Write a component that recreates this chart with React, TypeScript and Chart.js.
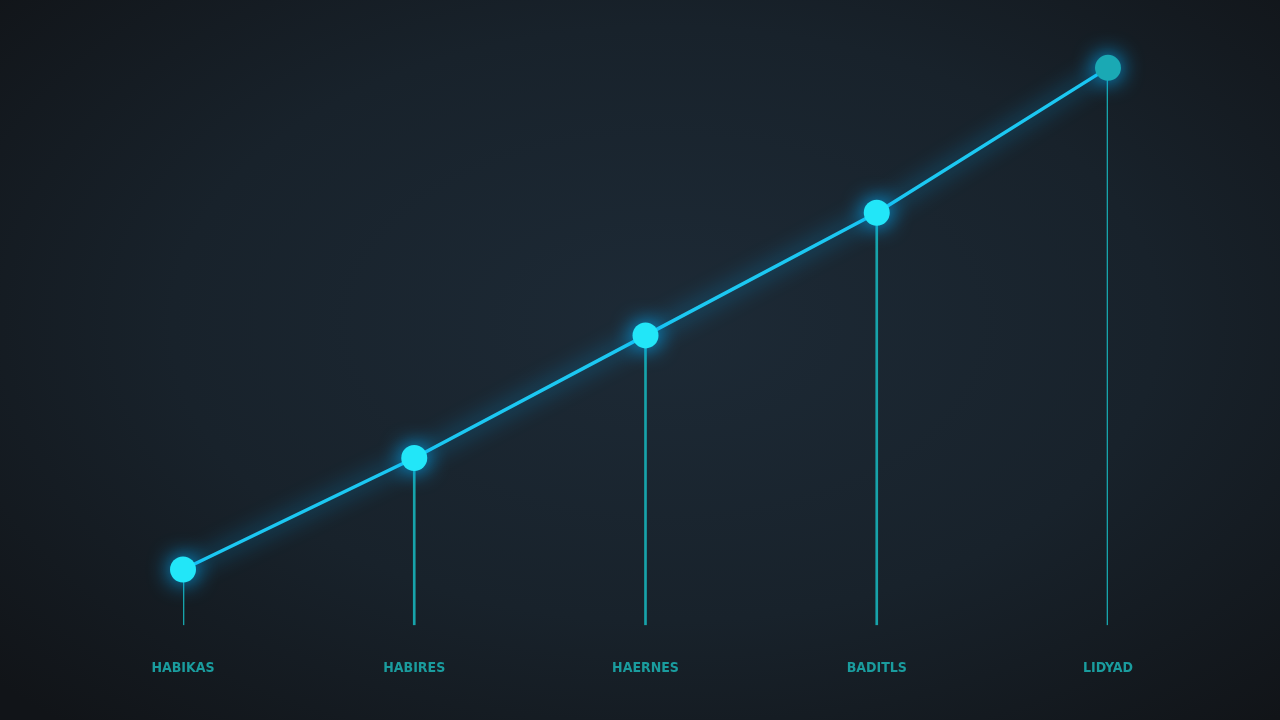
import React, { useEffect, useRef } from "react";
import { Chart, registerables } from "chart.js";

Chart.register(...registerables);

const categories = ["HABIKAS", "HABIRES", "HAERNES", "BADITLS", "LIDYAD"];
const values = [10, 30, 52, 74, 100];
const pointColors = ["#22e6f8", "#22e6f8", "#22e6f8", "#22e6f8", "#1aa9b4"];

const glowPlugin = {
  id: "glow",
  beforeDatasetDraw(chart: any, args: any) {
    const ds = chart.data.datasets[args.index];
    if (ds.type === "line") {
      const ctx = chart.ctx;
      ctx.save();
      ctx.shadowColor = "rgba(0, 175, 255, 1)";
      ctx.shadowBlur = 22;
    }
  },
  afterDatasetDraw(chart: any, args: any) {
    const ds = chart.data.datasets[args.index];
    if (ds.type === "line") {
      chart.ctx.restore();
    }
  },
};

export default function App() {
  const ref = useRef<HTMLCanvasElement>(null);
  useEffect(() => {
    const chart = new Chart(ref.current as HTMLCanvasElement, {
      type: "bar",
      data: {
        labels: categories,
        datasets: [
          {
            type: "line",
            data: values,
            borderColor: "#1cc8f2",
            borderWidth: 3.5,
            pointRadius: 13,
            pointHoverRadius: 13,
            pointBackgroundColor: pointColors,
            pointBorderWidth: 0,
            tension: 0,
            clip: false,
            order: 0,
          } as any,
          {
            type: "bar",
            data: values,
            backgroundColor: "#17a3aa",
            barThickness: 2,
            order: 1,
          } as any,
        ],
      },
      options: {
        animation: false,
        responsive: false,
        events: [],
        layout: { padding: { left: 183, right: 172, top: 40, bottom: 8 } },
        plugins: { legend: { display: false }, tooltip: { enabled: false } },
        scales: {
          x: {
            offset: false,
            grid: { display: false, drawTicks: false },
            border: { display: false },
            ticks: {
              color: "#1a9c9e",
              padding: 35,
              font: { family: "DejaVu Sans Condensed, DejaVu Sans", size: 14, weight: "bold" },
            },
          },
          y: {
            display: false,
            min: 0,
            max: 105,
          },
        },
      },
      plugins: [glowPlugin],
    });
    return () => chart.destroy();
  }, []);
  return (
    <div
      style={{
        position: "fixed",
        left: 0,
        top: 0,
        width: 1280,
        height: 720,
        background:
          "radial-gradient(ellipse 70% 75% at 52% 45%, #1d2a36 0%, #18222b 55%, #111418 100%)",
      }}
    >
      <canvas ref={ref} width={1280} height={720} style={{ display: "block" }} />
    </div>
  );
}
